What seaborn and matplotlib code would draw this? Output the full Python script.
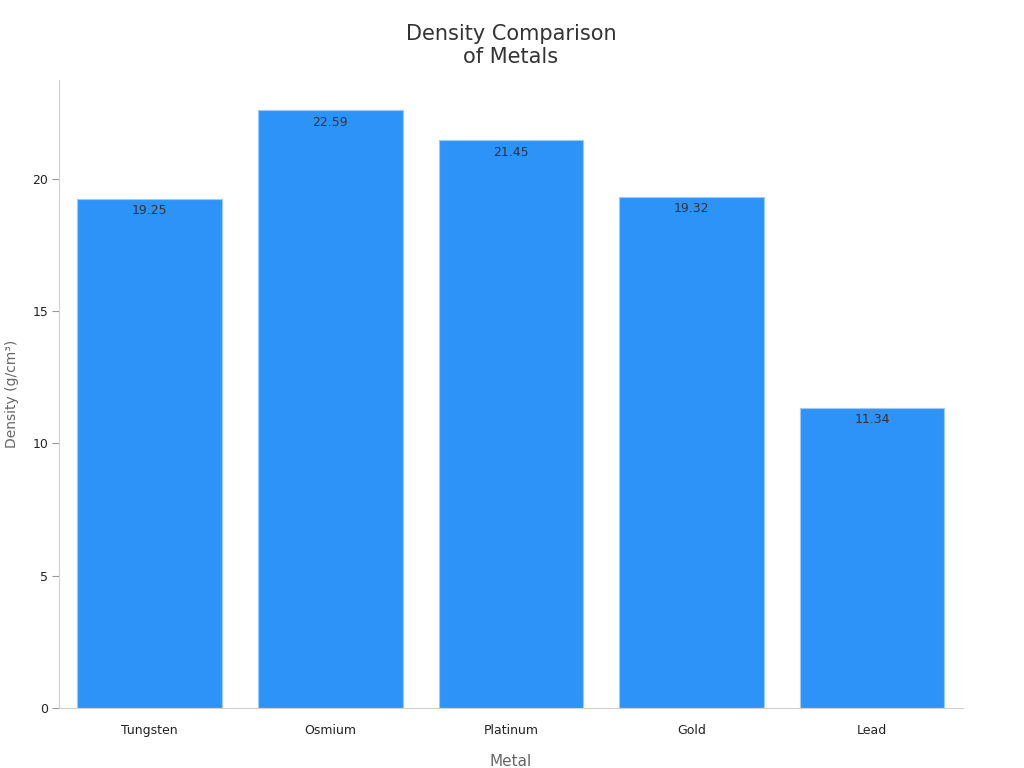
import matplotlib
matplotlib.use("Agg")
import matplotlib.pyplot as plt
import seaborn as sns
import pandas as pd

metals = ["Tungsten", "Osmium", "Platinum", "Gold", "Lead"]
densities = [19.25, 22.59, 21.45, 19.32, 11.34]

sns.set_style("white")
plt.rcParams['font.family'] = ['DejaVu Sans']
df = pd.DataFrame({"Metal": metals, "Density": densities})

fig, ax = plt.subplots(figsize=(10.24, 7.68), dpi=100)
fig.subplots_adjust(left=0.058, right=0.94, top=0.896, bottom=0.078)
sns.barplot(data=df, x="Metal", y="Density", color="#2E93F9", saturation=1,
            width=0.8, edgecolor="#9ccaf8", linewidth=0.8, ax=ax)
for i, v in enumerate(densities):
    ax.text(i, v - 0.2, f"{v:.2f}", ha="center", va="top", fontsize=9, color="#333333")
ax.set_ylim(0, 23.74)
ax.set_xlim(-0.5, 4.5)
ax.set_yticks([0, 5, 10, 15, 20])
ax.tick_params(axis="y", left=True, labelsize=9, colors="#222222", length=5,
               color="#999999", width=0.8, pad=3)
ax.tick_params(axis="x", bottom=False, labelsize=9, colors="#222222", pad=8)
for s in ["top", "right"]:
    ax.spines[s].set_visible(False)
for s in ["left", "bottom"]:
    ax.spines[s].set_color("#d0d0d0")
ax.set_xlabel("Metal", fontsize=11, color="#666666", labelpad=12)
ax.set_ylabel("Density (g/cm³)", fontsize=10, color="#666666", labelpad=10)
ax.set_title("Density Comparison\nof Metals", fontsize=15, color="#333333", pad=12)
fig.savefig("out.png")
